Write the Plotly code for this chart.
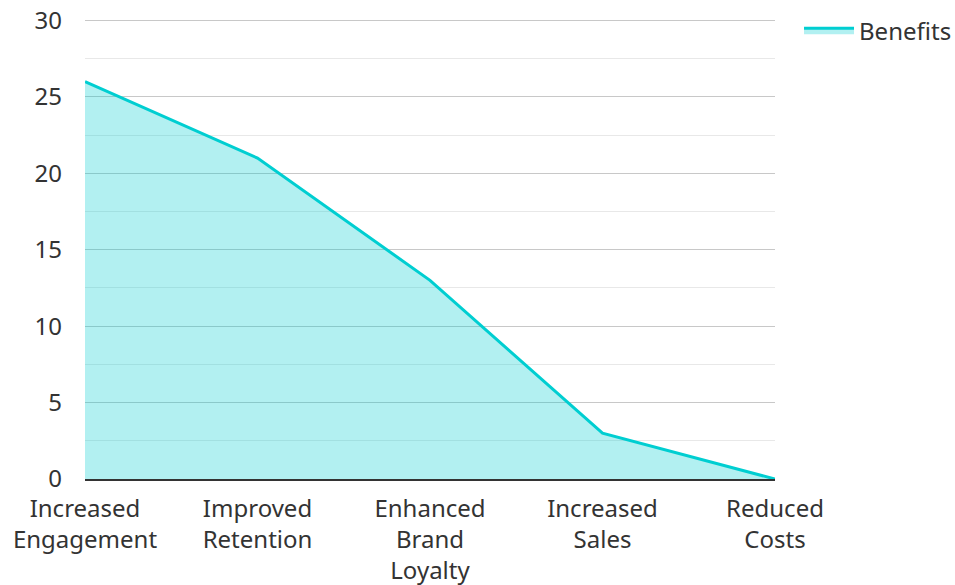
import plotly.graph_objects as go

categories = ["Increased<br>Engagement", "Improved<br>Retention", "Enhanced<br>Brand<br>Loyalty", "Increased<br>Sales", "Reduced<br>Costs"]
benefits = [26, 21, 13, 3, 0]

fig = go.Figure()
fig.add_trace(go.Scatter(
    x=categories, y=benefits, name="Benefits", mode="lines",
    line=dict(color="#00CED1", width=3),
    fill="tozeroy", fillcolor="rgba(0,206,209,0.3)",
))

fig.update_layout(
    width=955, height=585,
    margin=dict(l=85, r=180, t=19, b=106, autoexpand=False),
    paper_bgcolor="white", plot_bgcolor="white",
    font=dict(family="Noto Sans", size=24, color="#333333"),
    showlegend=True,
    legend=dict(x=1.0348, y=1.0235, xanchor="left", yanchor="top", itemwidth=50,
                font=dict(size=24, color="#333333"), bgcolor="rgba(0,0,0,0)"),
    xaxis=dict(range=[0, 4], showgrid=False, zeroline=False, showline=True, automargin=False,
               linecolor="#333333", linewidth=2, ticks="", ticklabelstandoff=7,
               tickfont=dict(size=24)),
    yaxis=dict(range=[0, 30.1], tickvals=[0, 5, 10, 15, 20, 25, 30], showgrid=True,
               gridcolor="#c8c8c8", gridwidth=1, automargin=False,
               zeroline=False, showline=False, ticks="", ticklabelstandoff=22,
               tickfont=dict(size=24),
               minor=dict(dtick=2.5, showgrid=True, gridcolor="#e8e8e8", gridwidth=1)),
)

fig.write_html("out.html")
